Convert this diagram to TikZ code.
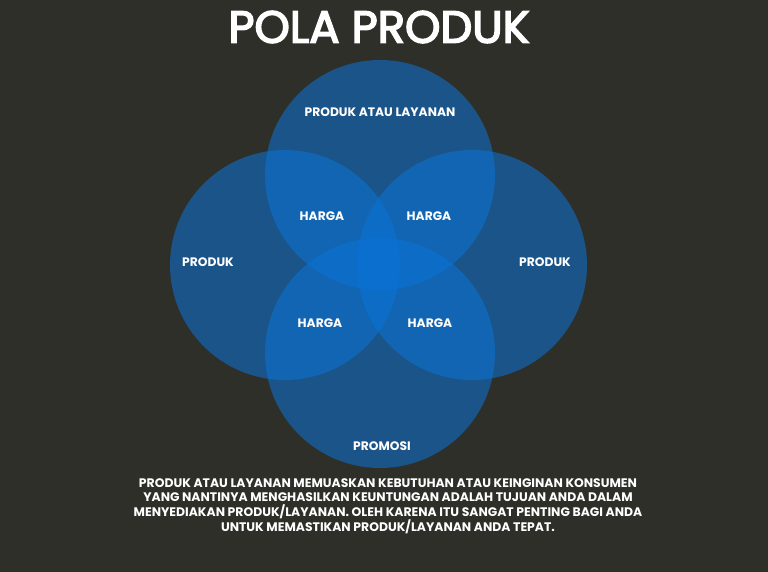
\documentclass[tikz,border=0pt]{standalone}
\usepackage{fontspec}
\setmainfont{Poppins}
\newfontfamily\titlefont[FakeBold=3.5]{Poppins}
\definecolor{bgc}{HTML}{2E2F29}
\definecolor{circc}{HTML}{0A73D7}
\begin{document}
\begin{tikzpicture}[x=1pt,y=-1pt,
  circ/.style={fill=circc,fill opacity=0.55,draw=none},
  lbl/.style={text=white,font=\bfseries\fontsize{12.3}{14}\selectfont,inner sep=0pt},
  ttl/.style={text=white,font=\titlefont\fontsize{45}{50}\selectfont,inner sep=0pt},
  body/.style={text=white,font=\bfseries\fontsize{12.4}{14.8}\selectfont,align=center,inner sep=0pt}]
\fill[bgc] (0,0) rectangle (768,572);
\useasboundingbox (0,0) rectangle (768,572);
\fill[circ] (380,175) circle[radius=115];
\fill[circ] (285,265) circle[radius=115];
\fill[circ] (472,265) circle[radius=115];
\fill[circ] (380,353) circle[radius=115];
\node[ttl] (title) at (379,27) {POLA PRODUK};
\node[lbl] (top) at (380,112) {PRODUK ATAU LAYANAN};
\node[lbl] (left) at (208,262) {PRODUK};
\node[lbl] (right) at (545,262) {PRODUK};
\node[lbl] (bottom) at (382,446) {PROMOSI};
\node[lbl] (h1) at (322,216) {HARGA};
\node[lbl] (h2) at (429,216) {HARGA};
\node[lbl] (h3) at (320,323) {HARGA};
\node[lbl] (h4) at (430,323) {HARGA};
\node[body] (text) at (388,506) {PRODUK ATAU LAYANAN MEMUASKAN KEBUTUHAN ATAU KEINGINAN KONSUMEN\\YANG NANTINYA MENGHASILKAN KEUNTUNGAN ADALAH TUJUAN ANDA DALAM\\MENYEDIAKAN PRODUK/LAYANAN. OLEH KARENA ITU SANGAT PENTING BAGI ANDA\\UNTUK MEMASTIKAN PRODUK/LAYANAN ANDA TEPAT.};
\end{tikzpicture}
\end{document}
